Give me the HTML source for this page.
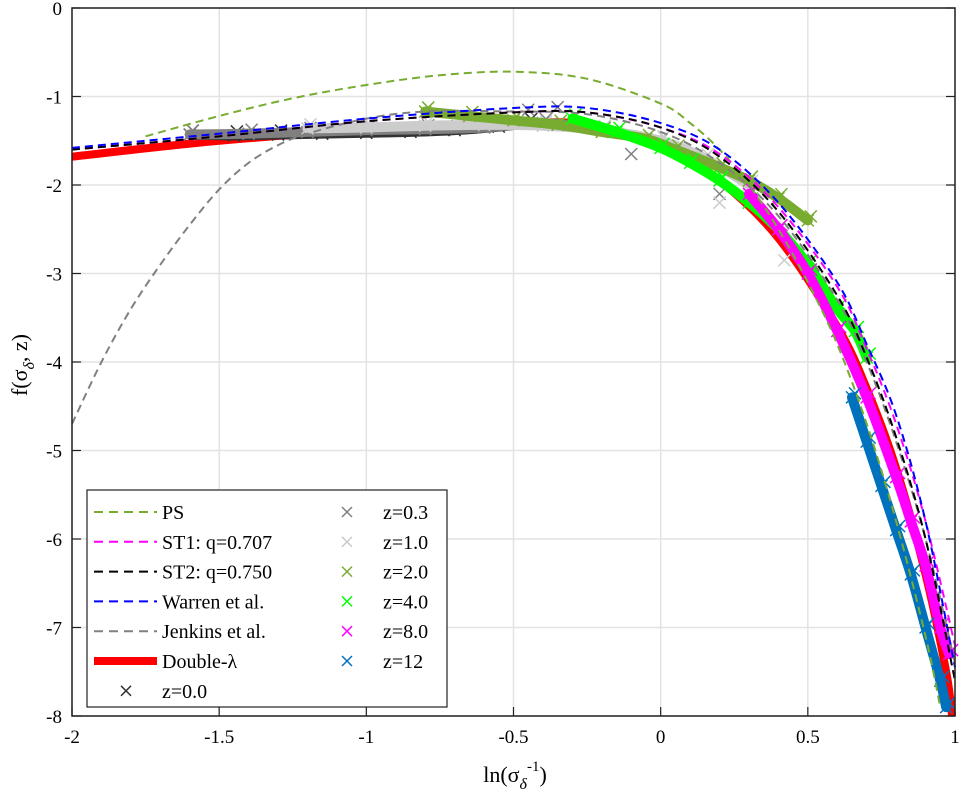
<!DOCTYPE html>
<html><head><meta charset="utf-8"><style>
body{margin:0;background:#fff}
text{font-family:"Liberation Serif",serif;fill:#000}
</style></head><body>
<svg id="chart" width="961" height="802" xmlns="http://www.w3.org/2000/svg">
<g id="grid"></g>
<g id="curves"></g>
<g id="scatter"></g>
<g id="curves2"></g>
<g id="axes"></g>
<g id="legend"></g>
<text x="515" y="782" text-anchor="middle" style="font-size:22px">ln(σ<tspan style="font-style:italic;font-size:16px" dy="7">δ</tspan><tspan style="font-size:15px" dy="-18">-1</tspan><tspan dy="11">)</tspan></text>
<text transform="translate(27,365) rotate(-90)" text-anchor="middle" style="font-size:22px">f(σ<tspan style="font-style:italic;font-size:16px" dy="7">δ</tspan><tspan dy="-7">, z)</tspan></text>
</svg>
<script>
const xTicks=[-2,-1.5,-1,-0.5,0,0.5,1];
const xTickLabels=["-2","-1.5","-1","-0.5","0","0.5","1"];
const yTicks=[0,-1,-2,-3,-4,-5,-6,-7,-8];
const yTickLabels=["0","-1","-2","-3","-4","-5","-6","-7","-8"];
const psX=[-1.75,-1.5,-1.25,-1,-0.75,-0.5,-0.25,0,0.1,0.2,0.3,0.4,0.5,0.6,0.7,0.8,0.9,0.95];
const psY=[-1.45,-1.22,-1.02,-0.87,-0.76,-0.72,-0.8,-1.08,-1.3,-1.6,-2.0,-2.5,-3.1,-3.8,-4.7,-5.8,-7.1,-7.9];
const jenX=[-2,-1.9,-1.8,-1.7,-1.6,-1.5,-1.4,-1.3,-1.2,-1,-0.8,-0.5,-0.25,0,0.2,0.4,0.6,0.7,0.8,0.9,1];
const jenY=[-4.7,-4.0,-3.4,-2.9,-2.45,-2.05,-1.75,-1.55,-1.42,-1.25,-1.17,-1.17,-1.2,-1.4,-1.75,-2.35,-3.3,-4.0,-4.9,-6.0,-7.4];
const warX=[-2,-1.5,-1,-0.5,-0.25,0,0.2,0.4,0.6,0.7,0.8,0.9,1];
const warY=[-1.58,-1.42,-1.25,-1.13,-1.13,-1.3,-1.6,-2.2,-3.1,-3.8,-4.6,-5.8,-7.45];
const st1X=[-2,-1.5,-1,-0.5,-0.25,0,0.2,0.4,0.6,0.7,0.8,0.9,1];
const st1Y=[-1.6,-1.45,-1.28,-1.18,-1.18,-1.35,-1.65,-2.25,-3.15,-3.85,-4.7,-5.8,-7.2];
const st2X=[-2,-1.5,-1,-0.5,-0.25,0,0.2,0.4,0.6,0.7,0.8,0.9,1];
const st2Y=[-1.6,-1.45,-1.28,-1.18,-1.18,-1.35,-1.68,-2.3,-3.25,-3.95,-4.85,-6.0,-7.6];
const dlX=[-2,-1.5,-1,-0.5,-0.25,0,0.2,0.4,0.6,0.7,0.8,0.9,0.97,0.99];
const dlY=[-1.68,-1.5,-1.38,-1.3,-1.32,-1.55,-1.95,-2.6,-3.6,-4.3,-5.2,-6.4,-7.5,-8];
const z00X=[-1.6,-1.45,-1.3,-1.15,-1.0,-0.85,-0.7,-0.55,-0.45];
const z00Y=[-1.43,-1.44,-1.43,-1.42,-1.41,-1.4,-1.38,-1.34,-1.3];
const z03X=[-1.6,-1.4,-1.2,-1.0,-0.8,-0.6,-0.4,-0.2,0];
const z03Y=[-1.43,-1.42,-1.4,-1.38,-1.37,-1.35,-1.3,-1.38,-1.5];
const z03OutX=[-0.35,-0.45,-0.1,0.2];
const z03OutY=[-1.12,-1.15,-1.65,-2.1];
const z10X=[-1.2,-1.0,-0.8,-0.6,-0.4,-0.2,0,0.15,0.3];
const z10Y=[-1.36,-1.35,-1.33,-1.32,-1.33,-1.38,-1.5,-1.7,-2.0];
const z10OutX=[0.2,0.42];
const z10OutY=[-2.2,-2.85];
const z20X=[-0.8,-0.65,-0.5,-0.35,-0.2,-0.05,0.05,0.2,0.3,0.4,0.5];
const z20Y=[-1.17,-1.22,-1.27,-1.32,-1.4,-1.48,-1.6,-1.8,-1.95,-2.15,-2.4];
const z40X=[-0.3,-0.15,0,0.1,0.2,0.3,0.4,0.5,0.6,0.66,0.7];
const z40Y=[-1.25,-1.4,-1.58,-1.75,-1.95,-2.2,-2.5,-2.9,-3.4,-3.65,-3.95];
const z80X=[0.3,0.4,0.5,0.6,0.7,0.8,0.85,0.9,0.95,0.98];
const z80Y=[-2.1,-2.5,-3.0,-3.65,-4.4,-5.3,-5.8,-6.3,-7.0,-7.3];
const z12X=[0.65,0.7,0.75,0.8,0.85,0.9,0.95,0.97];
const z12Y=[-4.4,-4.9,-5.4,-5.9,-6.4,-7.0,-7.6,-7.9];

const NS="http://www.w3.org/2000/svg";
const L=72,R=955,T=8,B=716;
const sx=v=>L+(v+2)/3*(R-L);
const sy=v=>T+(-v)/8*(B-T);
function mk(tag,at,parent){const e=document.createElementNS(NS,tag);for(const k in at)e.setAttribute(k,at[k]);parent.appendChild(e);return e;}
const grid=document.getElementById('grid'),axes=document.getElementById('axes'),curves=document.getElementById('curves'),curves2=document.getElementById('curves2'),scat=document.getElementById('scatter'),leg=document.getElementById('legend');
const TS='font-size:19px';
xTicks.forEach((t,i)=>{
 const g=mk('line',{x1:sx(t),x2:sx(t),y1:T,y2:B,stroke:'#e3e3e3','stroke-width':1.5},grid);
 
 
 const k=mk('line',{x1:sx(t),x2:sx(t),y1:B,y2:B-9,stroke:'#222','stroke-width':1.2},axes);
 
 
 const tx=mk('text',{x:sx(t),y:B+27,'text-anchor':'middle',style:TS},axes);tx.textContent=xTickLabels[i];
 
 
});
yTicks.forEach((t,i)=>{
 const g=mk('line',{x1:L,x2:R,y1:sy(t),y2:sy(t),stroke:'#e3e3e3','stroke-width':1.5},grid);
 
 
 const k=mk('line',{x1:L,x2:L+9,y1:sy(t),y2:sy(t),stroke:'#222','stroke-width':1.2},axes);
 
 
 const k2=mk('line',{x1:R,x2:R-9,y1:sy(t),y2:sy(t),stroke:'#222','stroke-width':1.2},axes);
 
 
 const tx=mk('text',{x:L-10,y:sy(t)+7,'text-anchor':'end',style:TS},axes);tx.textContent=yTickLabels[i];
 
 
});
const frame=mk('rect',{x:L,y:T,width:R-L,height:B-T,fill:'none',stroke:'#222','stroke-width':1.5},axes);


function smooth(X,Y){
 const P=X.map((x,i)=>[sx(x),sy(Y[i])]);
 let d=`M${P[0][0]},${P[0][1]}`;
 for(let i=0;i<P.length-1;i++){
  const p0=P[Math.max(0,i-1)],p1=P[i],p2=P[i+1],p3=P[Math.min(P.length-1,i+2)];
  const c1=[p1[0]+(p2[0]-p0[0])/6,p1[1]+(p2[1]-p0[1])/6];
  const c2=[p2[0]-(p3[0]-p1[0])/6,p2[1]-(p3[1]-p1[1])/6];
  d+=`C${c1[0]},${c1[1]} ${c2[0]},${c2[1]} ${p2[0]},${p2[1]}`;
 }
 return d;
}
function curve(X,Y,col,w,dash,name,parent){
 const p=mk('path',{d:smooth(X,Y),fill:'none',stroke:col,'stroke-width':w,'stroke-dasharray':dash,'stroke-linejoin':'round'},parent);
 
 
}
function xmark(g,cx,cy,col,s){mk('path',{d:`M${cx-s},${cy-s}L${cx+s},${cy+s}M${cx-s},${cy+s}L${cx+s},${cy-s}`,stroke:col,'stroke-width':1.5},g);}
function series(X,Y,col,name,OX,OY){
 const g=mk('g',{},scat);
 
 
 mk('path',{d:smooth(X,Y),fill:'none',stroke:col,'stroke-width':10,'stroke-linejoin':'round','stroke-linecap':'round'},g);
 X.forEach((x,i)=>{xmark(g,sx(x),sy(Y[i]),col,6);xmark(g,sx(x)+3,sy(Y[i])-4,col,6);});
 if(OX)OX.forEach((x,i)=>xmark(g,sx(x),sy(OY[i]),col,6));
}
curve(dlX,dlY,'#ff0000',8,'none','double-lambda-curve',curves);
series(z00X,z00Y,'#333333','z0-series');
series(z03X,z03Y,'#808080','z03-series',z03OutX,z03OutY);
series(z10X,z10Y,'#cccccc','z1-series',z10OutX,z10OutY);
series(z20X,z20Y,'#77ac30','z2-series');
series(z40X,z40Y,'#00ff00','z4-series');
series(z80X,z80Y,'#ff00ff','z8-series');
series(z12X,z12Y,'#0072bd','z12-series');
curve(psX,psY,'#77ac30',2,'8,5','ps-curve',curves2);
curve(jenX,jenY,'#808080',2,'8,5','jenkins-curve',curves2);
curve(st1X,st1Y,'#ff00ff',2,'8,5','st1-curve',curves2);
curve(st2X,st2Y,'#000000',2,'8,5','st2-curve',curves2);
curve(warX,warY,'#0000ff',2,'8,5','warren-curve',curves2);
// legend
const lb=mk('rect',{x:87,y:490,width:360,height:217,fill:'#fff',stroke:'#222','stroke-width':1.2},leg);


const leftItems=[['PS','#77ac30','d'],['ST1: q=0.707','#ff00ff','d'],['ST2: q=0.750','#000','d'],['Warren et al.','#0000ff','d'],['Jenkins et al.','#808080','d'],['Double-λ','#ff0000','s'],['z=0.0','#333','x']];
const rightItems=[['z=0.3','#808080'],['z=1.0','#cccccc'],['z=2.0','#77ac30'],['z=4.0','#00ff00'],['z=8.0','#ff00ff'],['z=12','#0072bd']];
leftItems.forEach((it,i)=>{const y=512+i*29.8;
 if(it[2]==='d')mk('line',{x1:94,x2:157,y1:y,y2:y,stroke:it[1],'stroke-width':2,'stroke-dasharray':'9,6'},leg);
 else if(it[2]==='s')mk('line',{x1:94,x2:157,y1:y,y2:y,stroke:it[1],'stroke-width':8},leg);
 else xmark(leg,126,y,it[1],5);
 const t=mk('text',{x:162,y:y+7,style:'font-size:20px'},leg);t.textContent=it[0];
 
 
});
rightItems.forEach((it,i)=>{const y=512+i*29.8;xmark(leg,347,y,it[1],5);
 const t=mk('text',{x:383,y:y+7,style:'font-size:20px'},leg);t.textContent=it[0];
 
 
});
</script>
</body></html>
